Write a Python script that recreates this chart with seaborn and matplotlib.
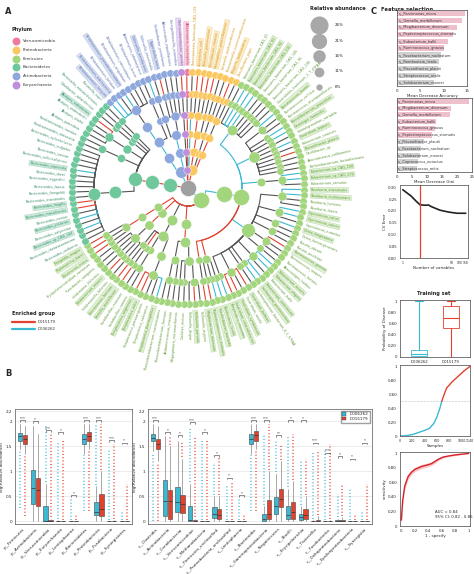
import numpy as np
import pandas as pd
import matplotlib
matplotlib.use("Agg")
import matplotlib.pyplot as plt
import seaborn as sns

sns.set_theme(style="white")
plt.rcParams['font.family'] = ['DejaVu Sans']

W, H = 474, 574
BLUE = "#3bb8d3"
RED = "#e2412e"

# ---------------- data: cladogram ----------------
phyla = ["Verrucomicrobia", "Proteobacteria", "Firmicutes", "Bacteroidetes", "Actinobacteria", "Euryarchaeota"]
phylum_colors = ["#ef7aa0", "#fbc860", "#a3d57d", "#6fc79c", "#8ea7dc", "#bd8fdc"]
phylum_text = ["#c2457a", "#d59a1a", "#5f9c3a", "#3d8f68", "#5870b0", "#8a5bb0"]

verrucomicrobia = ["Verrucomicrobiae/Akkermansiaceae/Akkermansia_muciniphila"]
proteobacteria = [
    "Unclassified/Unclassified/Proteobacteria_bacterium_CAG_139",
    "Gamma/Enterobacteriaceae/Escherichia_coli",
    "Gamma/Enterobacteriaceae/Klebsiella_pneumoniae",
    "Gamma/Enterobacteriaceae/Enterobacter_cloacae",
    "Gamma/Pasteurellaceae/Haemophilus_parainfluenzae",
    "Beta/Sutterellaceae/Sutterella_wadsworthensis",
    "Beta/Sutterellaceae/Parasutterella_excrementihominis",
    "Delta/Desulfovibrionaceae/Bilophila_wadsworthia",
    "Delta/Desulfovibrionaceae/Desulfovibrio_piger",
]
firmicutes = [
    "Clostridia/Unclassified/Firmicutes_bacterium_CAG_41",
    "Clostridia/Unclassified/Firmicutes_bacterium_CAG_83",
    "Clostridia/Unclassified/Firmicutes_bacterium_CAG_94",
    "Clostridia/Unclassified/Firmicutes_bacterium_CAG_110",
    "Clostridia/Unclassified/Firmicutes_bacterium_CAG_145",
    "Clostridia/Unclassified/Firmicutes_bacterium_CAG_95",
    "Clostridia/Unclassified/Firmicutes_bacterium_CAG_238",
    "Clostridia/Unclassified/Clostridiales_bacterium_1_7_47FAA",
    "Clostridia/Ruminococcaceae/Ruminococcus_bromii",
    "Clostridia/Ruminococcaceae/Ruminococcus_callidus",
    "Clostridia/Ruminococcaceae/Ruminococcus_champanellensis",
    "Clostridia/Ruminococcaceae/Faecalibacterium_prausnitzii",
    "Clostridia/Ruminococcaceae/Gemmiger_formicilis",
    "Clostridia/Ruminococcaceae/Subdoligranulum_variabile",
    "Clostridia/Ruminococcaceae/Clostridium_leptum",
    "Clostridia/Ruminococcaceae/Eubacterium_siraeum",
    "Clostridia/Ruminococcaceae/Flavonifractor_plautii",
    "Clostridia/Ruminococcaceae/Oscillibacter_sp",
    "Clostridia/Ruminococcaceae/Anaerotruncus_colihominis",
    "Clostridia/Ruminococcaceae/Ruthenibacterium_lactatiformans",
    "Clostridia/Eubacteriaceae/Eubacterium_sp_CAG_180",
    "Clostridia/Eubacteriaceae/Eubacterium_sp_CAG_274",
    "Clostridia/Eubacteriaceae/Eubacterium_ramulus",
    "Clostridia/Lachnospiraceae/Roseburia_intestinalis",
    "Clostridia/Lachnospiraceae/Roseburia_inulinivorans",
    "Clostridia/Lachnospiraceae/Roseburia_hominis",
    "Clostridia/Lachnospiraceae/Roseburia_faecis",
    "Clostridia/Lachnospiraceae/Coprococcus_catus",
    "Clostridia/Lachnospiraceae/Coprococcus_comes",
    "Clostridia/Lachnospiraceae/Coprococcus_eutactus",
    "Clostridia/Lachnospiraceae/Dorea_longicatena",
    "Clostridia/Lachnospiraceae/Dorea_formicigenerans",
    "Clostridia/Lachnospiraceae/Blautia_obeum",
    "Clostridia/Lachnospiraceae/Blautia_wexlerae",
    "Clostridia/Lachnospiraceae/Ruminococcus_gnavus",
    "Clostridia/Lachnospiraceae/Ruminococcus_torques",
    "Clostridia/Lachnospiraceae/Ruminococcus_lactaris",
    "Clostridia/Lachnospiraceae/Anaerostipes_hadrus",
    "Clostridia/Lachnospiraceae/Eubacterium_rectale",
    "Clostridia/Lachnospiraceae/Eubacterium_eligens",
    "Clostridia/Lachnospiraceae/Eubacterium_hallii",
    "Clostridia/Lachnospiraceae/Eubacterium_ventriosum",
    "Clostridia/Lachnospiraceae/Lachnospira_pectinoschiza",
    "Clostridia/Lachnospiraceae/Lachnospiraceae_bacterium_8_1_57FAA",
    "Clostridia/Lachnospiraceae/Clostridium_bolteae",
    "Clostridia/Lachnospiraceae/Clostridium_nexile",
    "Clostridia/Lachnospiraceae/Clostridium_symbiosum",
    "Clostridia/Lachnospiraceae/Clostridium_clostridioforme",
    "Clostridia/Lachnospiraceae/Butyrivibrio_crossotus",
    "Clostridia/Peptostreptococcaceae/Romboutsia_ilealis",
    "Clostridia/Peptostreptococcaceae/Intestinibacter_bartlettii",
    "Clostridia/Peptostreptococcaceae/Peptostreptococcus_stomatis",
    "Clostridia/FamilyXIII/Mogibacterium_diversum",
    "Negativicutes/Veillonellaceae/Veillonella_atypica",
    "Negativicutes/Veillonellaceae/Veillonella_parvula",
    "Negativicutes/Veillonellaceae/Veillonella_dispar",
    "Negativicutes/Veillonellaceae/Dialister_invisus",
    "Negativicutes/Veillonellaceae/Megasphaera_micronuciformis",
    "Negativicutes/Acidaminococcaceae/Acidaminococcus_intestini",
    "Negativicutes/Acidaminococcaceae/Phascolarctobacterium_faecium",
    "Negativicutes/Acidaminococcaceae/Phascolarctobacterium_succinatutens",
    "Bacilli/Streptococcaceae/Streptococcus_thermophilus",
    "Bacilli/Streptococcaceae/Streptococcus_salivarius",
    "Bacilli/Streptococcaceae/Streptococcus_parasanguinis",
    "Bacilli/Streptococcaceae/Streptococcus_mitis",
    "Bacilli/Streptococcaceae/Streptococcus_anginosus",
    "Bacilli/Lactobacillaceae/Lactobacillus_ruminis",
    "Bacilli/Lactobacillaceae/Lactobacillus_mucosae",
    "Bacilli/Gemellaceae/Gemella_morbillorum",
    "Bacilli/Enterococcaceae/Enterococcus_faecium",
    "Erysipelotrichia/Erysipelotrichaceae/Holdemanella_biformis",
    "Erysipelotrichia/Erysipelotrichaceae/Solobacterium_moorei",
    "Erysipelotrichia/Erysipelotrichaceae/Holdemania_filiformis",
    "Erysipelotrichia/Erysipelotrichaceae/Turicibacter_sanguinis",
    "Erysipelotrichia/Erysipelotrichaceae/Erysipelatoclostridium_ramosum",
    "Tissierellia/Peptoniphilaceae/Parvimonas_micra",
    "Tissierellia/Peptoniphilaceae/Peptoniphilus_harei",
    "Tissierellia/Peptoniphilaceae/Finegoldia_magna",
]
bacteroidetes = [
    "Bacteroidia/Bacteroidaceae/Bacteroides_uniformis",
    "Bacteroidia/Bacteroidaceae/Bacteroides_thetaiotaomicron",
    "Bacteroidia/Bacteroidaceae/Bacteroides_sp_CAG_144",
    "Bacteroidia/Bacteroidaceae/Bacteroides_salyersiae",
    "Bacteroidia/Bacteroidaceae/Bacteroides_plebeius",
    "Bacteroidia/Bacteroidaceae/Bacteroides_ovatus",
    "Bacteroidia/Bacteroidaceae/Bacteroides_massiliensis",
    "Bacteroidia/Bacteroidaceae/Bacteroides_fragilis",
    "Bacteroidia/Bacteroidaceae/Bacteroides_intestinalis",
    "Bacteroidia/Bacteroidaceae/Bacteroides_finegoldii",
    "Bacteroidia/Bacteroidaceae/Bacteroides_faecis",
    "Bacteroidia/Bacteroidaceae/Bacteroides_eggerthii",
    "Bacteroidia/Bacteroidaceae/Bacteroides_dorei",
    "Bacteroidia/Bacteroidaceae/Bacteroides_coprocola",
    "Bacteroidia/Bacteroidaceae/Bacteroides_cellulosilyticus",
    "Bacteroidia/Bacteroidaceae/Bacteroides_caccae",
    "Bacteroidia/Bacteroidaceae/Bacteroides_vulgatus",
    "Bacteroidia/Bacteroidaceae/Bacteroides_xylanisolvens",
    "Bacteroidia/Tannerellaceae/Parabacteroides_distasonis",
    "Bacteroidia/Tannerellaceae/Parabacteroides_merdae",
    "Bacteroidia/Rikenellaceae/Alistipes_putredinis",
    "Bacteroidia/Rikenellaceae/Alistipes_shahii",
    "Bacteroidia/Rikenellaceae/Alistipes_onderdonkii",
    "Bacteroidia/Rikenellaceae/Alistipes_indistinctus",
    "Bacteroidia/Odoribacteraceae/Odoribacter_splanchnicus",
    "Bacteroidia/Barnesiellaceae/Barnesiella_intestinihominis",
    "Bacteroidia/Prevotellaceae/Prevotella_copri",
]
actinobacteria = [
    "Actinobacteria/Bifidobacteriaceae/Bifidobacterium_longum",
    "Actinobacteria/Bifidobacteriaceae/Bifidobacterium_adolescentis",
    "Actinobacteria/Bifidobacteriaceae/Bifidobacterium_bifidum",
    "Actinobacteria/Bifidobacteriaceae/Bifidobacterium_pseudocatenulatum",
    "Actinobacteria/Bifidobacteriaceae/Bifidobacterium_angulatum",
    "Actinobacteria/Bifidobacteriaceae/Bifidobacterium_catenulatum",
    "Actinobacteria/Bifidobacteriaceae/Bifidobacterium_breve",
    "Actinobacteria/Actinomycetaceae/Actinomyces_odontolyticus",
    "Coriobacteriia/Coriobacteriaceae/Collinsella_aerofaciens",
    "Coriobacteriia/Coriobacteriaceae/Collinsella_intestinalis",
    "Coriobacteriia/Eggerthellaceae/Eggerthella_lenta",
    "Coriobacteriia/Eggerthellaceae/Gordonibacter_pamelaeae",
    "Coriobacteriia/Eggerthellaceae/Adlercreutzia_equolifaciens",
    "Coriobacteriia/Eggerthellaceae/Senegalimassilia_anaerobia",
]
euryarchaeota = ["Methanobacteria/Methanobacteriaceae/Methanobrevibacter_smithii"]
phylum_members = [verrucomicrobia, proteobacteria, firmicutes, bacteroidetes, actinobacteria, euryarchaeota]

enriched_red = ["Parvimonas_micra", "Gemella_morbillorum", "Peptostreptococcus_stomatis", "Mogibacterium_diversum",
                "Ruminococcus_gnavus", "Escherichia_coli", "Klebsiella_pneumoniae", "Streptococcus_anginosus",
                "Solobacterium_moorei", "Bacteroides_fragilis", "Clostridium_bolteae", "Clostridium_symbiosum",
                "Flavonifractor_plautii", "Akkermansia_muciniphila", "Clostridium_clostridioforme", "Finegoldia_magna",
                "Peptoniphilus_harei", "Veillonella_parvula", "Bilophila_wadsworthia", "Enterobacter_cloacae",
                "Eggerthella_lenta", "Streptococcus_mitis", "Enterococcus_faecium", "Alistipes_indistinctus",
                "Bacteroides_massiliensis", "Methanobrevibacter_smithii", "Haemophilus_parainfluenzae",
                "Tissierellia", "Peptoniphilaceae", "Proteobacteria", "Gamma", "Enterobacteriaceae", "Negativicutes",
                "Erysipelotrichia", "Peptostreptococcaceae", "FamilyXIII", "Gemellaceae", "Bacteroidetes",
                "Bacteroidia", "Verrucomicrobia", "Verrucomicrobiae", "Akkermansiaceae", "Delta", "Euryarchaeota"]
enriched_blue = ["Faecalibacterium_prausnitzii", "Roseburia_intestinalis", "Eubacterium_rectale", "Bifidobacterium_longum",
                 "Ruminococcus_bromii", "Coprococcus_catus", "Firmicutes_bacterium_CAG_83", "Firmicutes_bacterium_CAG_94",
                 "Firmicutes_bacterium_CAG_110", "Romboutsia_ilealis", "Eubacterium_eligens", "Lachnospira_pectinoschiza",
                 "Bacteroides_plebeius", "Roseburia_inulinivorans", "Eubacterium_ventriosum", "Gemmiger_formicilis",
                 "Clostridium_leptum", "Eubacterium_sp_CAG_180", "Eubacterium_sp_CAG_274", "Bifidobacterium_adolescentis",
                 "Bifidobacterium_pseudocatenulatum", "Collinsella_aerofaciens", "Coprococcus_comes", "Dorea_longicatena",
                 "Bacteroides_coprocola", "Bacteroides_sp_CAG_144", "Butyrivibrio_crossotus", "Intestinibacter_bartlettii",
                 "Firmicutes", "Clostridia", "Actinobacteria", "Bifidobacteriaceae", "Lachnospiraceae",
                 "Ruminococcaceae", "Eubacteriaceae", "Unclassified", "Coriobacteriia", "Streptococcus_thermophilus"]

# ---------------- data: panel B ----------------
groups = ["D006262", "D015179"]
phylum_cats = ["p__Firmicutes", "p__Actinobacteria", "p__Verrucomicrobia", "p__Euryarchaeota", "p__Lentisphaerae",
               "p__Bacteroidetes", "p__Proteobacteria", "p__Fusobacteria", "p__Synergistetes"]
pb_q1 = [1.60, 0.35, 0, 0, 0, 1.55, 0.12, 0, 0]
pb_med = [1.70, 0.67, 0.01, 0, 0, 1.65, 0.18, 0, 0]
pb_q3 = [1.77, 1.03, 0.30, 0.01, 0, 1.75, 0.38, 0, 0]
pb_lo = [1.45, 0, 0, 0, 0, 1.35, 0, 0, 0]
pb_hi = [1.95, 1.90, 0.75, 0.02, 0, 1.95, 0.70, 0, 0]
pb_fmax = [1.95, 1.90, 1.90, 1.60, 0.45, 1.95, 1.95, 1.45, 0.20]
pb_fmin = [0.27, 0, 0, 0, 0, 0.20, 0, 0, 0]
pr_q1 = [1.55, 0.30, 0, 0, 0, 1.60, 0.10, 0, 0]
pr_med = [1.65, 0.62, 0, 0, 0, 1.70, 0.25, 0, 0]
pr_q3 = [1.72, 0.87, 0.02, 0, 0, 1.78, 0.55, 0.01, 0]
pr_lo = [1.35, 0, 0, 0, 0, 1.45, 0, 0, 0]
pr_hi = [1.90, 1.75, 0.05, 0, 0, 1.95, 1.00, 0.02, 0]
pr_fmax = [1.90, 1.75, 1.75, 1.65, 0.15, 1.95, 1.95, 1.55, 0.75]
pr_fmin = [0.10, 0, 0, 0, 0, 0.20, 0, 0, 0]
p_sig_y = [2.02, 2.00, 1.82, 1.78, 0.52, 2.02, 2.02, 1.62, 1.57]
p_stars = ["***", "*", "***", "*", "*", "***", "***", "***", "*"]

class_cats = ["c__Clostridia", "c__Actinobacteria", "c__Coriobacteriia", "c__Verrucomicrobiae", "c__Methanobacteria",
              "c__Firmicutes_unclassified", "c__Proteobacteria_unclassified", "c__Lentisphaeria", "c__Bacteroidia",
              "c__Gammaproteobacteria", "c__Negativicutes", "c__Bacilli", "c__Erysipelotrichia", "c__Tissierellia",
              "c__Fusobacteriia", "c__Deltaproteobacteria", "c__Epsilonproteobacteria", "c__Synergistia"]
cb_q1 = [1.60, 0.10, 0.18, 0, 0, 0.07, 0, 0, 1.55, 0, 0.15, 0.05, 0.03, 0, 0, 0, 0, 0]
cb_med = [1.67, 0.40, 0.38, 0.02, 0, 0.15, 0, 0, 1.65, 0.05, 0.30, 0.12, 0.08, 0, 0, 0.01, 0, 0]
cb_q3 = [1.75, 0.82, 0.68, 0.30, 0, 0.28, 0, 0, 1.75, 0.15, 0.48, 0.30, 0.15, 0.01, 0, 0.02, 0, 0]
cb_lo = [1.40, 0, 0, 0, 0, 0, 0, 0, 1.35, 0, 0, 0, 0, 0, 0, 0, 0, 0]
cb_hi = [1.95, 1.70, 1.60, 0.75, 0, 0.50, 0, 0, 1.95, 0.30, 0.95, 0.65, 0.30, 0.02, 0, 0.05, 0, 0]
cb_fmax = [1.95, 1.70, 1.60, 1.85, 1.60, 1.15, 0.70, 0.45, 1.95, 1.75, 1.60, 1.70, 1.20, 1.40, 1.45, 0.55, 0.65, 0.20]
cb_fmin = [0.0, 0, 0, 0, 0, 0, 0, 0, 0.20, 0, 0, 0, 0, 0, 0, 0, 0, 0]
cr_q1 = [1.45, 0.05, 0.17, 0, 0, 0.05, 0, 0, 1.60, 0.05, 0.28, 0.05, 0.05, 0, 0, 0, 0, 0]
cr_med = [1.55, 0.40, 0.35, 0, 0, 0.12, 0, 0, 1.72, 0.15, 0.45, 0.18, 0.12, 0.01, 0, 0.01, 0, 0]
cr_q3 = [1.65, 0.63, 0.53, 0.02, 0, 0.25, 0, 0, 1.80, 0.42, 0.65, 0.38, 0.25, 0.03, 0.01, 0.03, 0, 0]
cr_lo = [1.20, 0, 0, 0, 0, 0, 0, 0, 1.45, 0, 0, 0, 0, 0, 0, 0, 0, 0]
cr_hi = [1.90, 1.50, 1.25, 0.05, 0, 0.50, 0, 0, 1.95, 1.00, 1.20, 0.80, 0.50, 0.10, 0.02, 0.08, 0, 0]
cr_fmax = [1.90, 1.70, 1.60, 1.70, 1.65, 1.30, 0.80, 0.15, 1.95, 1.95, 1.55, 1.75, 1.25, 1.40, 1.55, 0.75, 0.15, 0.75]
cr_fmin = [0.0, 0, 0, 0, 0, 0, 0, 0, 0.20, 0, 0, 0, 0, 0, 0, 0, 0, 0]
c_sig_y = [2.02, 1.78, 1.72, 1.98, 1.78, 1.32, 0.87, 0.52, 2.02, 2.02, 1.72, 2.02, 2.02, 1.57, 1.37, 1.30, 1.25, 1.57]
c_stars = ["***", "*", "*", "***", "*", "*", "*", "*", "***", "***", "**", "*", "*", "***", "***", "*", "*", "*"]

# ---------------- data: panel C ----------------
mda_names = ["s__Parvimonas_micra", "s__Gemella_morbillorum", "s__Mogibacterium_diversum",
             "s__Peptostreptococcus_stomatis", "s__Eubacterium_hallii", "s__Ruminococcus_gnavus",
             "s__Fusobacterium_nucleatum", "s__Romboutsia_ilealis", "s__Flavonifractor_plautii",
             "s__Streptococcus_oralis", "s__Solobacterium_moorei"]
mda_vals = [14.6, 13.9, 12.8, 12.0, 11.0, 10.0, 9.4, 9.0, 8.7, 8.3, 8.0]
gini_names = ["s__Parvimonas_micra", "s__Mogibacterium_diversum", "s__Gemella_morbillorum", "s__Eubacterium_hallii",
              "s__Ruminococcus_gnavus", "s__Peptostreptococcus_stomatis", "s__Flavonifractor_plautii",
              "s__Fusobacterium_nucleatum", "s__Solobacterium_moorei", "s__Coprococcus_eutactus",
              "s__Streptococcus_mitis"]
gini_vals = [24.0, 18.0, 17.5, 13.0, 12.5, 11.5, 9.0, 8.0, 7.5, 7.0, 6.5]
n_pink = 6
cv_nvars = [1, 2, 3, 4, 6, 8, 10, 20, 40, 80, 158]
cv_error = [0.29, 0.262, 0.24, 0.226, 0.224, 0.225, 0.218, 0.203, 0.195, 0.19, 0.19]
cv_best = 4
train_groups = ["D006262", "D015179"]
train_q1 = [0.02, 0.52]
train_med = [0.05, 0.70]
train_q3 = [0.12, 0.92]
train_lo = [0.0, 0.0]
train_hi = [1.0, 1.0]
samples_x = [0, 100, 200, 300, 400, 480, 550, 600, 650, 680, 720, 760, 850, 950, 1050, 1140]
samples_p = [0.0, 0.005, 0.02, 0.05, 0.08, 0.11, 0.18, 0.27, 0.40, 0.50, 0.60, 0.69, 0.78, 0.86, 0.94, 1.0]
roc_fpr = [0.0, 0.02, 0.05, 0.1, 0.15, 0.2, 0.3, 0.4, 0.45, 0.5, 0.55, 0.62, 0.7, 0.8, 0.9, 1.0]
roc_tpr = [0.08, 0.35, 0.55, 0.68, 0.74, 0.78, 0.82, 0.845, 0.86, 0.89, 0.92, 0.95, 0.965, 0.98, 0.99, 1.0]
roc_lo = [0.05, 0.30, 0.50, 0.64, 0.71, 0.75, 0.79, 0.82, 0.835, 0.865, 0.90, 0.935, 0.955, 0.97, 0.985, 1.0]
roc_hi = [0.11, 0.40, 0.60, 0.72, 0.77, 0.81, 0.85, 0.87, 0.885, 0.915, 0.94, 0.965, 0.975, 0.99, 0.995, 1.0]

# ================= figure =================
fig = plt.figure(figsize=(W / 100, H / 100), dpi=100)

def px_axes(x0, y0, x1, y1):
    return fig.add_axes([x0 / W, 1 - y1 / H, (x1 - x0) / W, (y1 - y0) / H])

# ---------- Panel A cladogram ----------
axA = fig.add_axes([0, 0, 1, 1])
axA.set_xlim(0, W); axA.set_ylim(H, 0); axA.axis("off")
axA.patch.set_alpha(0)
cx, cy = 188, 188
radii = [0, 18, 36, 54, 73, 94, 116]  # root, phylum, class, order, family, genus, species

def ecolor(name):
    if name in enriched_red:
        return RED
    if name in enriched_blue:
        return BLUE
    return "#555555"

leaves = []
for pi, mem in enumerate(phylum_members):
    for s in mem:
        c, f, sp = s.split("/")
        g = sp.split("_")[0] if not sp.startswith(("Firmicutes_bac", "Clostridiales_bac", "Proteobacteria_bac", "Lachnospiraceae_bac")) else sp
        leaves.append((pi, c, f, g, sp))
N = len(leaves)
step = 360.0 / N
angles = [92 - (i + 0.5) * step for i in range(N)]

def node_key(leaf, lvl):
    pi, c, f, g, sp = leaf
    return [("root",), ("p", pi), ("c", pi, c), ("o", pi, c), ("f", pi, c, f), ("g", pi, c, f, g),
            ("s", pi, c, f, g, sp)][lvl]

names, node_angles, node_n, children, node_lvl, node_ph = {}, {}, {}, {}, {}, {}
for i, lf in enumerate(leaves):
    pi, c, f, g, sp = lf
    nm = ["root", phyla[pi], c, c, f, g, sp]
    for lvl in range(7):
        k = node_key(lf, lvl)
        names[k] = nm[lvl]
        node_lvl[k] = lvl
        node_ph[k] = pi
        node_angles.setdefault(k, []).append(angles[i])
        node_n[k] = node_n.get(k, 0) + 1
        if lvl > 0:
            par = node_key(lf, lvl - 1)
            children.setdefault(par, [])
            if k not in children[par]:
                children[par].append(k)

def ang(k):
    a = node_angles[k]
    return (min(a) + max(a)) / 2

def pt(r, a):
    t = np.deg2rad(a)
    return cx + r * np.cos(t), cy - r * np.sin(t)

for parent, kids in children.items():
    lvl = node_lvl[parent]
    rp = radii[lvl]
    pa = ang(parent)
    for k in kids:
        ka = ang(k)
        rc = radii[lvl + 1]
        col = ecolor(names[k])
        arc = np.linspace(pa, ka, 30)
        xs, ys = zip(*[pt(rp, a) for a in arc])
        axA.plot(xs, ys, color=col, lw=0.8, zorder=1, solid_capstyle="butt")
        x0, y0 = pt(rp, ka); x1, y1 = pt(rc, ka)
        axA.plot([x0, x1], [y0, y1], color=col, lw=0.8, zorder=1)

for k in node_n:
    lvl = node_lvl[k]
    x, y = pt(radii[lvl], ang(k))
    colr = "#a0a0a0" if lvl == 0 else phylum_colors[node_ph[k]]
    d = min(4.2 + 1.1 * np.sqrt(node_n[k]), 11.5)
    axA.scatter([x], [y], s=d ** 2, color=colr, edgecolor="white", linewidth=0.3, zorder=3)

for i, lf in enumerate(leaves):
    pi, c, f, g, sp = lf
    a = angles[i] % 360
    x, y = pt(radii[-1] + 7, a)
    if 90 < a < 270:
        rot, ha = a - 180, "right"
    else:
        rot, ha = a, "left"
    hl = sp in enriched_red or sp in enriched_blue
    bbox = dict(boxstyle="square,pad=0.15", fc=phylum_colors[pi], ec=phylum_text[pi], lw=0.3, alpha=0.35) if hl else None
    axA.text(x, y, sp, rotation=rot, ha=ha, va="center", rotation_mode="anchor", fontsize=2.45,
             color=phylum_text[pi], bbox=bbox, zorder=4)

axA.text(5, 7, "A", fontsize=6, fontweight="bold", va="top")
axA.text(12, 30, "Phylum", fontsize=3.6, fontweight="bold", va="center")
for i, (p, cc) in enumerate(zip(phyla, phylum_colors)):
    yy = 41 + i * 8.8
    axA.scatter([16], [yy], s=22, color=cc, zorder=3)
    axA.text(23, yy, p, fontsize=2.9, va="center", color="#333333")
axA.text(12, 313, "Enriched group", fontsize=3.6, fontweight="bold", va="center")
for i, (gname, cc) in enumerate(zip(["D015179", "D006262"], [RED, BLUE])):
    yy = 322 + i * 7
    axA.plot([12, 35], [yy, yy], color=cc, lw=1.6)
    axA.text(38, yy, gname, fontsize=2.9, va="center", color="#333333")
axA.text(310, 9, "Relative abundance", fontsize=3.6, fontweight="bold", va="center")
ab_labels = ["26%", "21%", "16%", "11%", "6%"]
ab_sizes = [12, 10, 8, 6, 3.5]
for i, (lab, sz) in enumerate(zip(ab_labels, ab_sizes)):
    yy = 25 + i * 17 - (i * 1.5)
    axA.scatter([319], [yy], s=sz ** 2, color="#a8a8a8", zorder=3)
    axA.text(335, yy, lab, fontsize=2.9, va="center")

# ---------- Panel B ----------
def draw_box_panel(ax, cats, bstats, rstats, sig_y, stars, legend=False):
    xs = np.arange(len(cats))
    for gi, (st, col) in enumerate(zip([bstats, rstats], [BLUE, RED])):
        q1, med, q3, lo, hi, fmax, fmin = st
        stats = [dict(med=med[j], q1=q1[j], q3=q3[j], whislo=lo[j], whishi=hi[j], fliers=[]) for j in range(len(cats))]
        pos = xs + (-0.2 if gi == 0 else 0.2)
        for j in range(len(cats)):
            if fmax[j] > hi[j]:
                ax.plot([pos[j], pos[j]], [max(hi[j], q3[j]) + 0.03, fmax[j]], ls=(0, (0.6, 1.2)), lw=1.3,
                        color=col, alpha=0.75, zorder=1)
            if fmin[j] < lo[j] and lo[j] > 0:
                ax.plot([pos[j], pos[j]], [fmin[j], lo[j] - 0.03], ls=(0, (0.6, 1.2)), lw=1.3,
                        color=col, alpha=0.75, zorder=1)
        ax.bxp(stats, positions=pos, widths=0.34, patch_artist=True, showfliers=False,
               boxprops=dict(facecolor=col, edgecolor="#444444", lw=0.4),
               medianprops=dict(color="#333333", lw=0.5),
               whiskerprops=dict(color="#666666", lw=0.4), capprops=dict(lw=0))
    for j in range(len(cats)):
        y = sig_y[j]
        ax.plot([j - 0.2, j - 0.2, j + 0.2, j + 0.2], [y - 0.03, y, y, y - 0.03], color="#333333", lw=0.4)
        ax.text(j, y + 0.005, stars[j], ha="center", va="bottom", fontsize=2.8)
    ax.set_xlim(-0.6, len(cats) - 0.4)
    ax.set_ylim(-0.06, 2.25)
    ax.set_yticks([0, 0.5, 1, 1.5, 2, 2.2])
    ax.set_yticklabels(["0", "0.5", "1", "1.5", "2", "2.2"], fontsize=3)
    ax.set_xticks(xs)
    ax.set_xticklabels(cats, rotation=45, ha="right", rotation_mode="anchor", fontsize=3)
    ax.set_ylabel("log(Relative abundance)", fontsize=3, labelpad=1)
    ax.yaxis.grid(True, color="#dddddd", lw=0.4)
    ax.tick_params(length=1.2, width=0.4, pad=1)
    for s in ax.spines.values():
        s.set_linewidth(0.5); s.set_color("#555555")
    if legend:
        from matplotlib.patches import Patch
        ax.legend(handles=[Patch(fc=BLUE, ec="#444444", lw=0.3, label=groups[0]),
                           Patch(fc=RED, ec="#444444", lw=0.3, label=groups[1])],
                  loc="upper right", fontsize=3, frameon=True, handlelength=1, handleheight=0.8,
                  borderpad=0.3, labelspacing=0.2, edgecolor="#888888", fancybox=False)

axA.text(5, 369, "B", fontsize=6, fontweight="bold", va="top")
axB1 = px_axes(15, 409, 132, 524)
draw_box_panel(axB1, phylum_cats, (pb_q1, pb_med, pb_q3, pb_lo, pb_hi, pb_fmax, pb_fmin),
               (pr_q1, pr_med, pr_q3, pr_lo, pr_hi, pr_fmax, pr_fmin), p_sig_y, p_stars)
axB2 = px_axes(148, 409, 372, 524)
draw_box_panel(axB2, class_cats, (cb_q1, cb_med, cb_q3, cb_lo, cb_hi, cb_fmax, cb_fmin),
               (cr_q1, cr_med, cr_q3, cr_lo, cr_hi, cr_fmax, cr_fmin), c_sig_y, c_stars, legend=True)

# ---------- Panel C ----------
axA.text(371, 7, "C", fontsize=6, fontweight="bold", va="top")
axA.text(381, 7, "Feature selection", fontsize=3.8, fontweight="bold", va="top")

def small_style(ax):
    ax.tick_params(length=1.2, width=0.4, pad=1, labelsize=2.8)
    for s in ax.spines.values():
        s.set_linewidth(0.5); s.set_color("#444444")

def bar_panel(ax, nms, vals, xmax, ticks, xlabel):
    df = pd.DataFrame({"name": nms, "val": vals})
    cols = ["#f5b8c8"] * n_pink + ["#d0d0d0"] * (len(nms) - n_pink)
    sns.barplot(data=df, y="name", x="val", hue="name", palette=cols, legend=False, ax=ax,
                width=0.75, edgecolor="none")
    for i, nm in enumerate(nms):
        ax.text(0.3, i, nm, fontsize=2.5, va="center", ha="left", color="#333333")
    ax.set_xlim(0, xmax); ax.set_xticks(ticks)
    ax.set_yticks([]); ax.set_ylabel("")
    ax.set_xlabel(xlabel, fontsize=2.9, labelpad=1)
    small_style(ax)

axC1 = px_axes(397, 10, 467, 86)
bar_panel(axC1, mda_names, mda_vals, 15, [0, 5, 10, 15], "Mean Decrease Accuracy")
axC2 = px_axes(397, 98, 472, 172)
bar_panel(axC2, gini_names, gini_vals, 25, [0, 5, 10, 15, 20, 25], "Mean Decrease Gini")

axC3 = px_axes(400, 185, 468, 258)
sns.lineplot(x=cv_nvars, y=cv_error, ax=axC3, color="#222222", lw=1.2)
axC3.axvline(cv_best, color=RED, lw=0.9)
axC3.set_xscale("log")
axC3.set_xlim(0.8, 190)
axC3.set_xticks([1, 50, 100, 158]); axC3.set_xticklabels(["1", "50", "100", "158"])
axC3.minorticks_off()
axC3.set_ylim(0, 0.31)
axC3.set_yticks([0, 0.05, 0.1, 0.15, 0.2, 0.25, 0.3])
axC3.set_xlabel("Number of variables", fontsize=2.9, labelpad=1)
axC3.set_ylabel("CV Error", fontsize=2.9, labelpad=1)
small_style(axC3)
axC3.tick_params(axis="x", labelsize=2.2)

axA.text(434, 294, "Training set", fontsize=3.6, fontweight="bold", ha="center", va="center")
axC4 = px_axes(400, 300, 470, 357)
stats = [dict(med=train_med[j], q1=train_q1[j], q3=train_q3[j], whislo=train_lo[j], whishi=train_hi[j], fliers=[])
         for j in range(2)]
for j, col in enumerate([BLUE, RED]):
    axC4.bxp([stats[j]], positions=[j], widths=0.5, patch_artist=True, showfliers=False,
             boxprops=dict(facecolor="none", edgecolor=col, lw=0.6),
             medianprops=dict(color=col, lw=0.8), whiskerprops=dict(color=col, lw=0.8),
             capprops=dict(color=col, lw=0.8))
axC4.set_xticks([0, 1]); axC4.set_xticklabels(train_groups)
axC4.set_xlim(-0.6, 1.6)
axC4.set_ylim(0, 1.02)
axC4.set_yticks([0, 0.2, 0.4, 0.6, 0.8, 1]); axC4.set_yticklabels(["0", "0.20", "0.40", "0.60", "0.80", "1"])
axC4.set_ylabel("Probability of Disease", fontsize=2.9, labelpad=1)
small_style(axC4)

axC5 = px_axes(400, 365, 470, 436)
sx = np.array(samples_x); sp_ = np.array(samples_p)
mask_b = sp_ <= 0.5
axC5.plot(sx[mask_b], sp_[mask_b], color=BLUE, lw=1.0)
sns.lineplot(x=sx[~mask_b | (sp_ == 0.5)], y=sp_[~mask_b | (sp_ == 0.5)], ax=axC5, color=RED, lw=1.0)
axC5.axhline(0.5, color="#888888", lw=0.4, ls=":")
axC5.set_xlim(0, 1140); axC5.set_ylim(0, 1.02)
axC5.set_xticks([0, 200, 400, 600, 800, 1000, 1140])
axC5.set_yticks([0, 0.2, 0.4, 0.6, 0.8, 1]); axC5.set_yticklabels(["0", "0.20", "0.40", "0.60", "0.80", "1"])
axC5.set_xlabel("Samples", fontsize=2.9, labelpad=1)
small_style(axC5)
axC5.tick_params(axis="x", labelsize=2.3)

axC6 = px_axes(400, 452, 470, 526)
axC6.fill_between(roc_fpr, roc_lo, roc_hi, color="#f6a5a5", alpha=0.6, lw=0)
sns.lineplot(x=roc_fpr, y=roc_tpr, ax=axC6, color="#d8202a", lw=1.0)
axC6.set_xlim(-0.02, 1.02); axC6.set_ylim(0, 1.02)
axC6.set_xticks([0, 0.2, 0.4, 0.6, 0.8, 1]); axC6.set_xticklabels(["0", "0.2", "0.4", "0.6", "0.8", "1"])
axC6.set_yticks([0, 0.2, 0.4, 0.6, 0.8, 1]); axC6.set_yticklabels(["0", "0.20", "0.40", "0.60", "0.80", "1"])
axC6.set_xlabel("1 - specify", fontsize=2.9, labelpad=1)
axC6.set_ylabel("sensitivity", fontsize=2.9, labelpad=1)
axC6.text(0.5, 0.1, "AUC = 0.84\n95% CI: 0.82 - 0.86", fontsize=2.8, va="bottom", ha="left", linespacing=1.2)
small_style(axC6)

fig.savefig("out.png", dpi=100)
